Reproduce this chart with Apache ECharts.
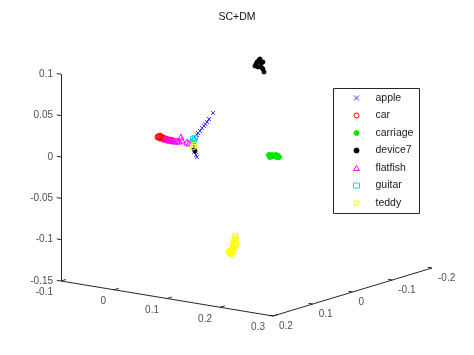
<!DOCTYPE html>
<html>
<head>
<meta charset="utf-8">
<script src="https://cdn.jsdelivr.net/npm/echarts@6/dist/echarts.min.js"></script>
<style>html,body{margin:0;padding:0;background:#fff}#c{width:474px;height:355px}</style>
</head>
<body>
<div id="c"></div>
<script>
// ---------- data (3D embedding coordinates [x, y, z]) ----------
const categories = ['apple', 'car', 'carriage', 'device7', 'flatfish', 'guitar', 'teddy'];

const apple = [
  [0, -0.0491, 0.0276], [0, -0.0390, 0.0218], [0, -0.0340, 0.0189], [0, -0.0300, 0.0170],
  [0, -0.0264, 0.0152], [0, -0.0214, 0.0135], [0, -0.0164, 0.0106], [0, -0.0113, 0.0089],
  [0, -0.0088, 0.0068], [0, -0.0038, 0.0051], [0, -0.0013, -0.0005], [0, -0.0013, -0.0126],
  [0, -0.0063, -0.0170], [0, -0.0088, -0.0198]
];
const car = [
  [0.005, 0.0935, 0.0198], [0.005, 0.0909, 0.0182], [0.005, 0.0884, 0.0190], [0.005, 0.0859, 0.0175],
  [0.005, 0.0834, 0.0171], [0.005, 0.0809, 0.0155], [0.005, 0.0758, 0.0148], [0.005, 0.0708, 0.0129],
  [0.005, 0.0658, 0.0121], [0.005, 0.0608, 0.0102], [0.005, 0.0909, 0.0206], [0.005, 0.0960, 0.0201]
];
const carriage = [
  [0.1458, 0.0045, 0], [0.1523, 0.0081, 0], [0.1547, 0.0063, 0], [0.1572, 0.0046, 0],
  [0.1637, 0.0082, 0], [0.1661, 0.0064, 0], [0.1495, 0.0018, 0], [0.1544, -0.0017, 0],
  [0.1551, 0.0144, 0], [0.1608, 0.0019, 0]
];
const device7 = [
  [0.0562, -0.0849, 0.09], [0.0477, -0.1037, 0.09], [0.0635, -0.0902, 0.09], [0.0699, -0.0615, 0.09],
  [0.0776, -0.0588, 0.09], [0.0865, -0.0570, 0.09], [0.1051, -0.0372, 0.09], [0.0505, -0.0974, 0.09],
  [0.0630, -0.0732, 0.09], [0.0691, -0.0776, 0.09], [0.0918, -0.0525, 0.09],
  [0, -0.0038, -0.0118], [0, -0.0013, -0.0090]
];
const flatfish = [
  [0.005, 0.0784, 0.0152], [0.005, 0.0733, 0.0144], [0.005, 0.0683, 0.0125], [0.005, 0.0633, 0.0118],
  [0.005, 0.0582, 0.0110], [0.005, 0.0532, 0.0091], [0.005, 0.0482, 0.0084], [0.005, 0.0431, 0.0076],
  [0.005, 0.0381, 0.0117], [0.005, 0.0356, 0.0078], [0.005, 0.0230, 0.0035], [0.005, 0.0180, 0.0016]
];
const guitar = [
  [0, 0.0013, 0.0034], [0, -0.0013, 0.0007], [0, 0.0038, -0.0010], [0, -0.0038, 0.0039]
];
const teddy = [
  [0.0783, 0, -0.1057], [0.0783, 0, -0.1106], [0.0764, 0, -0.1144], [0.0783, 0, -0.1178],
  [0.0745, 0, -0.1207], [0.0708, 0, -0.1247], [0.0689, 0, -0.1273], [0.0726, 0, -0.1269],
  [0.0802, 0, -0.1080], [0.0764, 0, -0.1120], [0.0745, 0, -0.1170], [0.0802, 0, -0.1152],
  [0.0726, 0, -0.1220], [0.0670, 0, -0.1263], [0.0708, 0, -0.1283], [0.0745, 0, -0.1243],
  [-0.0009, 0, -0.0065], [0.0009, 0, -0.0039]
];

// axis limits and ticks
const xLim = [-0.1, 0.3];
const yLim = [-0.2, 0.2];
const zLim = [-0.15, 0.1];
const xTicks = [-0.1, 0, 0.1, 0.2, 0.3];
const yTicks = [0.2, 0.1, 0, -0.1, -0.2];
const zTicks = [0.1, 0.05, 0, -0.05, -0.1, -0.15];
const xTickLabels = ['-0.1', '0', '0.1', '0.2', '0.3'];
const yTickLabels = ['0.2', '0.1', '0', '-0.1', '-0.2'];
const zTickLabels = ['0.1', '0.05', '0', '-0.05', '-0.1', '-0.15'];
const title = 'SC+DM';

// ---------- view (orthographic projection of the 3D box onto the page) ----------
const VIEW = { ox: 193.5, oy: 141.7, ex: [530, 87.5], ey: [-397.5, 120], ez: [0, -827] };
function proj(p) {
  return [
    VIEW.ox + p[0] * VIEW.ex[0] + p[1] * VIEW.ey[0] + p[2] * VIEW.ez[0],
    VIEW.oy + p[0] * VIEW.ex[1] + p[1] * VIEW.ey[1] + p[2] * VIEW.ez[1]
  ];
}

const FONT = '"Liberation Sans", Arial, Helvetica, sans-serif';
const xPath = 'path://M0,0L10,10M10,0L0,10';

const styles = {
  apple:    { symbol: xPath, size: 4, fill: 'rgba(0,0,0,0)', stroke: '#3535ff' },
  car:      { symbol: 'circle', size: 6, fill: 'rgba(0,0,0,0)', stroke: '#ff0000' },
  carriage: { symbol: 'circle', size: 5, fill: '#00e600', stroke: '#00e600' },
  device7:  { symbol: 'circle', size: 4, fill: '#000000', stroke: '#000000' },
  flatfish: { symbol: 'triangle', size: 6, fill: 'rgba(0,0,0,0)', stroke: '#ff00ff' },
  guitar:   { symbol: 'rect', size: 5, fill: 'rgba(0,0,0,0)', stroke: '#00e0e0' },
  teddy:    { symbol: 'circle', size: 6, fill: 'rgba(0,0,0,0)', stroke: '#ffff00' }
};
const seriesData = { apple, car, carriage, device7, flatfish, guitar, teddy };

// axis lines (box edges that MATLAB shows)
const axisSegs = [
  [[xLim[0], yLim[1], zLim[0]], [xLim[1], yLim[1], zLim[0]]], // x axis
  [[xLim[1], yLim[1], zLim[0]], [xLim[1], yLim[0], zLim[0]]], // y axis
  [[xLim[0], yLim[1], zLim[0]], [xLim[0], yLim[1], zLim[1]]]  // z axis
];
const tickSegs = [];
xTicks.forEach(t => tickSegs.push([[t, yLim[1], zLim[0]], [t, yLim[1] - 0.012, zLim[0]]]));
yTicks.forEach(t => tickSegs.push([[xLim[1], t, zLim[0]], [xLim[1] - 0.008, t, zLim[0]]]));
zTicks.forEach(t => tickSegs.push([[xLim[0], yLim[1], t], [xLim[0] - 0.008, yLim[1], t]]));

const series = [];
series.push({
  type: 'lines', coordinateSystem: 'cartesian2d', silent: true, z: 1,
  lineStyle: { color: '#262626', width: 1, opacity: 1 },
  data: axisSegs.concat(tickSegs).map(s => ({ coords: [proj(s[0]), proj(s[1])] }))
});

categories.forEach(name => {
  const st = styles[name];
  series.push({
    name, type: 'scatter', z: 3,
    symbol: st.symbol, symbolSize: st.size, symbolKeepAspect: true,
    itemStyle: { color: st.fill, borderColor: st.stroke, borderWidth: 1, opacity: 1 },
    emphasis: { disabled: true },
    data: seriesData[name].map(proj)
  });
});

const labelBase = { show: true, color: '#1a1a1a', fontSize: 10, fontFamily: FONT };
series.push({
  type: 'scatter', symbolSize: 0, silent: true, z: 2,
  data: zTicks.map((t, i) => ({ value: proj([xLim[0], yLim[1], t]), name: zTickLabels[i] })),
  label: Object.assign({}, labelBase, { position: 'left', distance: 8, formatter: p => p.name })
});
series.push({
  type: 'scatter', symbolSize: 0, silent: true, z: 2,
  data: xTicks.map((t, i) => ({ value: proj([t, yLim[1], zLim[0]]), name: xTickLabels[i] })),
  label: Object.assign({}, labelBase, { position: 'inside', align: 'right', verticalAlign: 'middle', offset: [-8, 11.5], formatter: p => p.name })
});
series.push({
  type: 'scatter', symbolSize: 0, silent: true, z: 2,
  data: yTicks.map((t, i) => ({ value: proj([xLim[1], t, zLim[0]]), name: yTickLabels[i] })),
  label: Object.assign({}, labelBase, { position: 'inside', align: 'left', verticalAlign: 'middle', offset: [6, 10], formatter: p => p.name })
});

const chart = echarts.init(document.getElementById('c'), null, { renderer: 'canvas' });
chart.setOption({
  animation: false,
  backgroundColor: '#ffffff',
  title: {
    text: title, left: 'center', top: 7,
    textStyle: { fontSize: 10.5, fontWeight: 'normal', color: '#111', fontFamily: FONT }
  },
  grid: { left: 0, right: 0, top: 0, bottom: 0 },
  xAxis: { type: 'value', min: 0, max: 474, show: false },
  yAxis: { type: 'value', min: 0, max: 355, inverse: true, show: false },
  legend: {
    data: categories, orient: 'vertical', left: 353, top: 92, padding: 0,
    itemWidth: 6, itemHeight: 5, itemGap: 5.5,
    itemStyle: { borderWidth: 1 },
    textStyle: { fontSize: 10.5, color: '#1a1a1a', fontFamily: FONT, lineHeight: 12, padding: [0, 0, 0, 11] },
    selectedMode: false
  },
  graphic: [{
    type: 'rect', shape: { x: 333.5, y: 88.5, width: 86, height: 125 },
    style: { fill: 'none', stroke: '#262626', lineWidth: 1 }, z: 10
  }],
  series
});
</script>
</body>
</html>
